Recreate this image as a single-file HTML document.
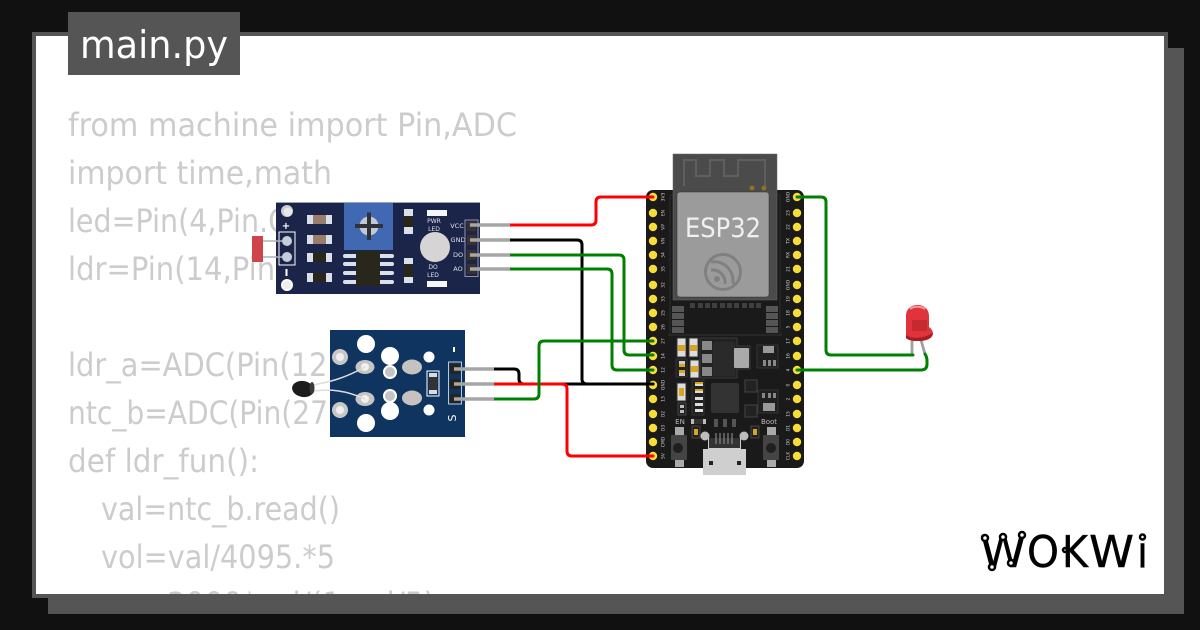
<!DOCTYPE html>
<html><head><meta charset="utf-8"><style>
html,body{margin:0;padding:0;background:#111;width:1200px;height:630px;overflow:hidden}
svg{display:block}
text{font-family:"DejaVu Sans","Liberation Sans",sans-serif}
</style></head><body>
<svg width="1200" height="630" viewBox="0 0 1200 630" xmlns="http://www.w3.org/2000/svg">
<defs><clipPath id="c"><rect x="36" y="36" width="1128" height="558"/></clipPath></defs>
<rect width="1200" height="630" fill="#111"/>
<rect x="48" y="48" width="1136" height="566" fill="#555"/>
<rect x="32" y="32" width="1136" height="566" fill="#555"/>
<rect x="36" y="36" width="1128" height="558" fill="#fff"/>
<rect x="68" y="12" width="172" height="63" fill="#555"/>
<text x="80" y="58" font-size="38" fill="#fff" textLength="148" lengthAdjust="spacingAndGlyphs">main.py</text>
<g clip-path="url(#c)" font-size="32" fill="#ccc">
<text x="68" y="136" textLength="449" lengthAdjust="spacingAndGlyphs">from machine import Pin,ADC</text>
<text x="68" y="184" textLength="264" lengthAdjust="spacingAndGlyphs">import time,math</text>
<text x="68" y="232" textLength="272" lengthAdjust="spacingAndGlyphs">led=Pin(4,Pin.OUT)</text>
<text x="68" y="280" textLength="258" lengthAdjust="spacingAndGlyphs">ldr=Pin(14,Pin.IN)</text>
<text x="68" y="376" textLength="282" lengthAdjust="spacingAndGlyphs">ldr_a=ADC(Pin(12))</text>
<text x="68" y="424" textLength="282" lengthAdjust="spacingAndGlyphs">ntc_b=ADC(Pin(27))</text>
<text x="68" y="472" textLength="191" lengthAdjust="spacingAndGlyphs">def ldr_fun():</text>
<text x="101" y="520" textLength="239" lengthAdjust="spacingAndGlyphs">val=ntc_b.read()</text>
<text x="101" y="568" textLength="234" lengthAdjust="spacingAndGlyphs">vol=val/4095.*5</text>
<text x="97" y="615" textLength="338" lengthAdjust="spacingAndGlyphs">res=3000*vol/(1-vol/5)</text>
</g>

<!-- LDR module -->
<rect x="276" y="202" width="204" height="92" fill="#1b2449"/>
<rect x="276" y="202" width="204" height="1" fill="#9aa3b8"/>
<circle cx="287" cy="211" r="6" fill="#c9ccd2"/><circle cx="288" cy="212" r="4.500" fill="#e8e8e8"/><circle cx="287" cy="285" r="6" fill="#fff"/><circle cx="287" cy="285" r="4.500" fill="#eee"/>
<text x="286" y="229" font-size="10" fill="#fff" text-anchor="middle" font-weight="bold">+</text>
<rect x="285.500" y="269" width="2" height="7" fill="#fff"/>
<rect x="279" y="232" width="16" height="33" fill="none" stroke="#fff" stroke-width="1"/>
<path d="M262 241H287M262 257H287" stroke="#a9b4bd" stroke-width="1.500"/>
<circle cx="287" cy="241" r="5" fill="#c5cdd8"/><circle cx="287" cy="257" r="5" fill="#c5cdd8"/>
<rect x="252" y="236" width="11" height="26" fill="#cf4449"/>
<g fill="#d8e0ea">
<rect x="307" y="215" width="25" height="9"/><rect x="307" y="235" width="25" height="9"/><rect x="307" y="253" width="25" height="9"/><rect x="307" y="273" width="25" height="9"/>
</g>
<rect x="313" y="215" width="13" height="9" fill="#9a7d6b"/><rect x="313" y="235" width="13" height="9" fill="#9a7d6b"/>
<rect x="313" y="253" width="13" height="9" fill="#29261c"/><rect x="313" y="273" width="13" height="9" fill="#29261c"/>
<rect x="344" y="203" width="49" height="47" fill="#4169b3"/>
<circle cx="369" cy="226" r="9.500" fill="#c4c7d4"/>
<path d="M369 212.500V240M355 226H383" stroke="#2f3338" stroke-width="4"/>
<g fill="#d8e0ea">
<rect x="343" y="254" width="51" height="4" rx="2"/><rect x="343" y="262" width="51" height="4" rx="2"/><rect x="343" y="271" width="51" height="4" rx="2"/><rect x="343" y="280" width="51" height="4" rx="2"/>
</g>
<rect x="356" y="251" width="24" height="35" fill="#29261c"/>
<rect x="404" y="209" width="9" height="25" fill="#d8e0ea"/><rect x="404" y="216" width="9" height="11" fill="#29261c"/>
<rect x="404" y="258" width="9" height="25" fill="#d8e0ea"/><rect x="404" y="264" width="9" height="13" fill="#29261c"/>
<rect x="427" y="210" width="20" height="6" fill="#f5f6f8"/><rect x="427" y="281" width="20" height="6" fill="#f5f6f8"/>
<circle cx="435" cy="247" r="15" fill="#d6d4d4"/>
<g fill="#dfe3ea" font-size="6" text-anchor="middle">
<text x="434" y="223">PWR</text><text x="434" y="231">LED</text><text x="433" y="269">DO</text><text x="433" y="277">LED</text>
</g>
<g fill="#dfe3ea" font-size="6.500" text-anchor="middle">
<text x="457" y="228">VCC</text><text x="458" y="242">GND</text><text x="458" y="257">DO</text><text x="458" y="271">AO</text>
</g>
<rect x="465" y="220" width="13" height="56.500" fill="none" stroke="#8c93a5" stroke-width="1"/>
<g fill="#3a302c"><rect x="467" y="221" width="9" height="10"/><rect x="467" y="235" width="9" height="10"/><rect x="467" y="250" width="9" height="10"/><rect x="467" y="264" width="9" height="10"/></g>

<!-- NTC module -->
<rect x="330" y="330" width="135" height="107" fill="#0f3460"/>
<g fill="#fff">
<circle cx="366" cy="344" r="9"/><circle cx="366" cy="423" r="9"/><circle cx="390" cy="356" r="9"/><circle cx="390" cy="411" r="9"/><circle cx="429" cy="357" r="5.500"/><circle cx="429" cy="410" r="5.500"/>
<circle cx="390" cy="372" r="7"/><circle cx="390" cy="396" r="7"/>
</g>
<circle cx="390" cy="372" r="5" fill="#c5c5c5"/><circle cx="390" cy="396" r="5" fill="#c5c5c5"/>
<circle cx="340" cy="357" r="8" fill="#c7c7c7"/><circle cx="340" cy="357" r="4" fill="#efefef"/>
<circle cx="340" cy="410" r="8" fill="#c7c7c7"/><circle cx="340" cy="410" r="4" fill="#efefef"/>
<ellipse cx="365" cy="367" rx="9.500" ry="7" fill="#c5c5c5"/><circle cx="365" cy="367" r="4" fill="#f0f0f0"/>
<ellipse cx="365" cy="399" rx="9.500" ry="7" fill="#c5c5c5"/><circle cx="365" cy="399" r="4" fill="#f0f0f0"/>
<ellipse cx="412" cy="367" rx="10" ry="7.500" fill="#c5c2c0"/><ellipse cx="412" cy="398" rx="10" ry="7.500" fill="#c5c2c0"/>
<path d="M313 385C330 382 345 378 365 367M313 391C330 389 345 390 365 399" fill="none" stroke="#ddd" stroke-width="1.500"/>
<ellipse cx="303" cy="389" rx="11" ry="8" fill="#1c1c1c" transform="rotate(10 303 389)"/><ellipse cx="312" cy="388" rx="2.500" ry="6" fill="#3a3a3a"/>
<rect x="427" y="371" width="12" height="25" fill="none" stroke="#fff" stroke-width="1"/>
<rect x="429" y="373" width="8" height="21" fill="#d8dce0"/><rect x="429" y="377" width="8" height="13" fill="#333"/>
<rect x="453" y="347" width="2" height="5" fill="#fff"/>
<text x="456" y="418" font-size="11" fill="#fff" text-anchor="middle" transform="rotate(-90 456 418)">S</text>
<rect x="448.500" y="362" width="13" height="42" fill="none" stroke="#b9c8d8" stroke-width="1"/>
<g fill="#26231e"><rect x="450" y="364" width="10" height="10"/><rect x="450" y="379" width="10" height="10"/><rect x="450" y="394" width="10" height="9"/></g>

<!-- ESP32 -->
<rect x="646" y="190" width="158" height="278" rx="7" fill="#1a1a1a"/>
<rect x="670" y="195" width="110" height="140" fill="none" stroke="#2c2c2c"/>
<rect x="673" y="154" width="104" height="146" fill="#4b4b4b" stroke="#666" stroke-width=".5"/>
<path d="M684 186V160H696V176H710V160H724V176H738V160H765V186" fill="none" stroke="#5f5f5f" stroke-width="2"/>
<circle cx="752" cy="188" r="2.500" fill="#8b7320"/><circle cx="764" cy="188" r="2.500" fill="#8b7320"/>
<rect x="677" y="192" width="92" height="105" rx="3" fill="#9b9b9b" stroke="#333" stroke-width=".5"/>
<text x="723" y="237" font-size="27" fill="#f0f0f0" text-anchor="middle" textLength="76" lengthAdjust="spacingAndGlyphs">ESP32</text>
<g fill="none" stroke="#808080">
<circle cx="723" cy="272" r="17.500" stroke-width="3"/>
<path d="M711 262C724 260 734 270 733 284" stroke-width="3"/>
<path d="M711 270C719 269 726 276 725 284" stroke-width="3"/>
</g>
<circle cx="717" cy="279" r="3" fill="#808080"/>
<g fill="#555"><rect x="672" y="306" width="12" height="6"/><rect x="672" y="313" width="12" height="6"/><rect x="672" y="320" width="12" height="6"/><rect x="672" y="327" width="12" height="6"/>
<rect x="766" y="306" width="12" height="6"/><rect x="766" y="313" width="12" height="6"/><rect x="766" y="320" width="12" height="6"/><rect x="766" y="327" width="12" height="6"/></g>
<g fill="#3f3f3f"><rect x="690" y="303" width="5" height="5"/><rect x="698" y="303" width="5" height="5"/><rect x="705" y="303" width="5" height="5"/><rect x="712" y="303" width="5" height="5"/><rect x="720" y="303" width="5" height="5"/><rect x="727" y="303" width="5" height="5"/><rect x="734" y="303" width="5" height="5"/><rect x="742" y="303" width="5" height="5"/><rect x="749" y="303" width="5" height="5"/><rect x="756" y="303" width="5" height="5"/></g>
<path d="M668 335H782" stroke="#333" stroke-width="1"/>
<!-- SMD -->
<g>
<rect x="677" y="338" width="9" height="19" fill="#ddd" stroke="#333"/><rect x="678" y="345" width="7" height="6" fill="#d9a520"/>
<rect x="689" y="338" width="9" height="19" fill="#ddd" stroke="#333"/><rect x="690" y="345" width="7" height="6" fill="#d9a520"/>
<rect x="690" y="360" width="9" height="18" fill="#ddd" stroke="#333"/><rect x="691" y="366" width="7" height="6" fill="#d9a520"/>
<rect x="676" y="359" width="11" height="18" fill="#222" stroke="#333"/><rect x="679" y="361" width="6" height="3" fill="#ccc"/><rect x="679" y="364" width="6" height="3" fill="#d9a520"/><rect x="679" y="370" width="6" height="3" fill="#d9a520"/><rect x="679" y="373" width="6" height="3" fill="#ccc"/>
<rect x="677" y="383" width="9" height="18" fill="#ddd" stroke="#333"/><rect x="679" y="388" width="5" height="8" fill="#d9a520"/>
<rect x="678" y="403" width="8" height="12" fill="#222" stroke="#444"/><rect x="680" y="405" width="4" height="3" fill="#bbb"/><rect x="680" y="410" width="4" height="3" fill="#bbb"/>
</g>
<path d="M700 338H737V346H750V369H737V378H700Z" fill="#222" stroke="#3a3a3a"/>
<rect x="702" y="341" width="10" height="9" fill="#888"/><rect x="702" y="354" width="10" height="9" fill="#888"/><rect x="702" y="367" width="10" height="9" fill="#888"/>
<rect x="713" y="342" width="22" height="34" fill="#2a2a2a"/>
<rect x="734" y="348" width="15" height="20" rx="1" fill="#aaa"/>
<rect x="757" y="345" width="21" height="23" fill="#202020" stroke="#333"/><rect x="763" y="346" width="11" height="7" fill="#999"/><rect x="763" y="360" width="3" height="6" fill="#888"/><rect x="768" y="360" width="3" height="6" fill="#888"/><rect x="773" y="360" width="3" height="6" fill="#888"/>
<rect x="692" y="380" width="12" height="35" fill="#202020" stroke="#333"/>
<g fill="#ddd"><rect x="695" y="382" width="8" height="4"/><rect x="695" y="389" width="8" height="4"/><rect x="695" y="397" width="8" height="3"/><rect x="695" y="403" width="8" height="3"/><rect x="695" y="409" width="8" height="3"/></g>
<rect x="695" y="382" width="8" height="2" fill="#d9a520"/><rect x="695" y="389" width="8" height="2" fill="#d9a520"/>
<rect x="711" y="383" width="28" height="30" rx="2" fill="#333"/>
<rect x="745" y="380" width="12" height="12" fill="#222" stroke="#444"/><rect x="745" y="405" width="12" height="12" fill="#222" stroke="#444"/>
<rect x="758" y="390" width="20" height="23" fill="#202020" stroke="#333"/><rect x="763" y="403" width="12" height="8" fill="#999"/><rect x="762" y="393" width="3" height="5" fill="#888"/><rect x="768" y="393" width="3" height="5" fill="#888"/><rect x="773" y="393" width="3" height="5" fill="#888"/>
<rect x="692" y="419" width="14" height="5" fill="#333"/><rect x="691" y="419" width="3" height="5" fill="#bbb"/><rect x="703" y="419" width="3" height="5" fill="#bbb"/>
<rect x="692" y="426" width="8" height="12" fill="#222" stroke="#444"/><rect x="694" y="429" width="4" height="6" fill="#d9a520"/>
<rect x="751" y="426" width="8" height="12" fill="#222" stroke="#444"/><rect x="753" y="429" width="4" height="6" fill="#d9a520"/>
<rect x="714" y="419" width="4" height="8" fill="#555"/><rect x="723" y="419" width="4" height="8" fill="#555"/><rect x="732" y="419" width="4" height="8" fill="#555"/>
<text x="680" y="424" font-size="7" fill="#bbb" text-anchor="middle">EN</text>
<text x="769" y="424" font-size="7" fill="#bbb" text-anchor="middle">Boot</text>
<!-- buttons -->
<rect x="675" y="427" width="9" height="40" fill="#aaa"/><rect x="671" y="435" width="16" height="25" rx="1" fill="#444"/><circle cx="678" cy="448" r="5" fill="#1f1f1f"/>
<rect x="767" y="427" width="9" height="40" fill="#aaa"/><rect x="763" y="435" width="16" height="25" rx="1" fill="#444"/><circle cx="771" cy="448" r="5" fill="#1f1f1f"/>
<!-- USB -->
<path d="M708 438H741V449H746V475H703V449H708Z" fill="#cfcfcf"/>
<path d="M709 438H740V448H709Z" fill="#333"/>
<circle cx="705" cy="436" r="4.500" fill="#bdbdbd"/><circle cx="744" cy="436" r="4.500" fill="#bdbdbd"/>
<path d="M716 433V444M720 433V444M724 433V444M728 433V444M732 433V444" stroke="#999" stroke-width="1"/>
<rect x="709" y="461" width="4" height="4" fill="#222"/><rect x="737" y="461" width="4" height="4" fill="#222"/>
<!-- pins -->
<g fill="#f7dc3a">
<circle cx="653" cy="197" r="4.200"/><circle cx="653" cy="213" r="4.200"/><circle cx="653" cy="227" r="4.200"/><circle cx="653" cy="241" r="4.200"/><circle cx="653" cy="255" r="4.200"/><circle cx="653" cy="269" r="4.200"/><circle cx="653" cy="285" r="4.200"/><circle cx="653" cy="299" r="4.200"/><circle cx="653" cy="313" r="4.200"/><circle cx="653" cy="327" r="4.200"/><circle cx="653" cy="341" r="4.200"/><circle cx="653" cy="356" r="4.200"/><circle cx="653" cy="370" r="4.200"/><circle cx="653" cy="385" r="4.200"/><circle cx="653" cy="399" r="4.200"/><circle cx="653" cy="414" r="4.200"/><circle cx="653" cy="428" r="4.200"/><circle cx="653" cy="442" r="4.200"/><circle cx="653" cy="456" r="4.200"/>
<circle cx="797" cy="197" r="4.200"/><circle cx="797" cy="213" r="4.200"/><circle cx="797" cy="227" r="4.200"/><circle cx="797" cy="241" r="4.200"/><circle cx="797" cy="255" r="4.200"/><circle cx="797" cy="269" r="4.200"/><circle cx="797" cy="285" r="4.200"/><circle cx="797" cy="299" r="4.200"/><circle cx="797" cy="313" r="4.200"/><circle cx="797" cy="327" r="4.200"/><circle cx="797" cy="341" r="4.200"/><circle cx="797" cy="356" r="4.200"/><circle cx="797" cy="370" r="4.200"/><circle cx="797" cy="385" r="4.200"/><circle cx="797" cy="399" r="4.200"/><circle cx="797" cy="414" r="4.200"/><circle cx="797" cy="428" r="4.200"/><circle cx="797" cy="442" r="4.200"/><circle cx="797" cy="456" r="4.200"/>
</g>
<!-- pin labels -->
<g font-size="4.500" fill="#d0d0d0" text-anchor="middle">
<text transform="translate(663 197) rotate(-90)" y="1.500">3V3</text><text transform="translate(663 213) rotate(-90)" y="1.500">EN</text><text transform="translate(663 227) rotate(-90)" y="1.500">VP</text><text transform="translate(663 241) rotate(-90)" y="1.500">VN</text><text transform="translate(663 255) rotate(-90)" y="1.500">34</text><text transform="translate(663 269) rotate(-90)" y="1.500">35</text><text transform="translate(663 285) rotate(-90)" y="1.500">32</text><text transform="translate(663 299) rotate(-90)" y="1.500">33</text><text transform="translate(663 313) rotate(-90)" y="1.500">25</text><text transform="translate(663 327) rotate(-90)" y="1.500">26</text><text transform="translate(663 341) rotate(-90)" y="1.500">27</text><text transform="translate(663 356) rotate(-90)" y="1.500">14</text><text transform="translate(663 370) rotate(-90)" y="1.500">12</text><text transform="translate(663 385) rotate(-90)" y="1.500">GND</text><text transform="translate(663 399) rotate(-90)" y="1.500">13</text><text transform="translate(663 414) rotate(-90)" y="1.500">D2</text><text transform="translate(663 428) rotate(-90)" y="1.500">D3</text><text transform="translate(663 442) rotate(-90)" y="1.500">CMD</text><text transform="translate(663 456) rotate(-90)" y="1.500">5V</text>
<text transform="translate(788 197) rotate(-90)" y="1.500">GND</text><text transform="translate(788 213) rotate(-90)" y="1.500">23</text><text transform="translate(788 227) rotate(-90)" y="1.500">22</text><text transform="translate(788 241) rotate(-90)" y="1.500">TX</text><text transform="translate(788 255) rotate(-90)" y="1.500">RX</text><text transform="translate(788 269) rotate(-90)" y="1.500">21</text><text transform="translate(788 285) rotate(-90)" y="1.500">GND</text><text transform="translate(788 299) rotate(-90)" y="1.500">19</text><text transform="translate(788 313) rotate(-90)" y="1.500">18</text><text transform="translate(788 327) rotate(-90)" y="1.500">5</text><text transform="translate(788 341) rotate(-90)" y="1.500">17</text><text transform="translate(788 356) rotate(-90)" y="1.500">16</text><text transform="translate(788 370) rotate(-90)" y="1.500">4</text><text transform="translate(788 385) rotate(-90)" y="1.500">0</text><text transform="translate(788 399) rotate(-90)" y="1.500">2</text><text transform="translate(788 414) rotate(-90)" y="1.500">15</text><text transform="translate(788 428) rotate(-90)" y="1.500">D1</text><text transform="translate(788 442) rotate(-90)" y="1.500">D0</text><text transform="translate(788 456) rotate(-90)" y="1.500">CLK</text>
</g>

<!-- LED legs -->
<path d="M912 340V355M921 340L925 354" stroke="#a0a0a0" stroke-width="2.800" fill="none"/>
<!-- wires -->
<g fill="none" stroke-width="3" stroke-linejoin="round" stroke-linecap="round">
<path d="M508 225H591Q596 225 596 220V202Q596 197 601 197H653" stroke="#f00"/>
<path d="M508 240H577Q582 240 582 245V379Q582 384 587 384H653" stroke="#000"/>
<path d="M508 255H619Q624 255 624 260V350Q624 355 629 355H653" stroke="#008000"/>
<path d="M508 269H607Q612 269 612 274V365Q612 370 617 370H653" stroke="#008000"/>
<path d="M494 369H514Q519 369 519 374V379Q519 384 524 384H653" stroke="#000"/>
<path d="M494 384H562Q567 384 567 389V451Q567 456 572 456H653" stroke="#f00"/>
<path d="M494 399H534Q539 399 539 394V346Q539 341 544 341H653" stroke="#008000"/>
<path d="M797 197H821Q826 197 826 202V350Q826 355 831 355H913" stroke="#008000"/>
<path d="M797 370H921Q927 370 927 364V361Q927 357 925 354" stroke="#008000"/>
</g>
<!-- LED -->
<path d="M906 338V316C906 309 911 305 917.500 305C924 305 929 309 929 316V327C932 329 933 332 933 334C932 339 926 341 918 341C912 341 908 340 906 338Z" fill="#e0343c"/>
<path d="M906 335C912 339 922 339 933 333C932 339 926 341 918 341C912 341 908 340 906 338Z" fill="#a81c22"/>
<path d="M912 320H927V331H912Z" fill="#c42a30"/>
<path d="M910 309C913 306 921 306 925 309" stroke="#f59aa0" stroke-width="2" fill="none"/>
<!-- gray pins over wires -->
<g stroke="#a6a6a6" stroke-width="3.500">
<path d="M470 225H510M470 240H510M470 255H510M470 269H510"/>
<path d="M454 369H494M454 384H494M454 399H494"/>
</g>

<!-- logo -->
<g font-size="44" fill="#000" stroke="#000" stroke-width=".4">
<text x="980" y="567" textLength="46" lengthAdjust="spacingAndGlyphs">W</text>
<text x="1027" y="567" textLength="32" lengthAdjust="spacingAndGlyphs">O</text>
<text x="1062" y="567" textLength="26" lengthAdjust="spacingAndGlyphs">K</text>
<text x="1089" y="567" textLength="45" lengthAdjust="spacingAndGlyphs">W</text>
<text x="1137" y="567" textLength="11" lengthAdjust="spacingAndGlyphs">i</text>
</g>
<g fill="#fff" stroke="#000" stroke-width="2.500">
<circle cx="985" cy="538" r="3"/><circle cx="1003" cy="537" r="3"/><circle cx="1022" cy="535" r="3"/><circle cx="992" cy="567" r="3"/><circle cx="1011" cy="563" r="3"/><circle cx="1065" cy="550" r="2"/><circle cx="1142.500" cy="537" r="2.500"/>
</g>
</svg>
</body></html>
